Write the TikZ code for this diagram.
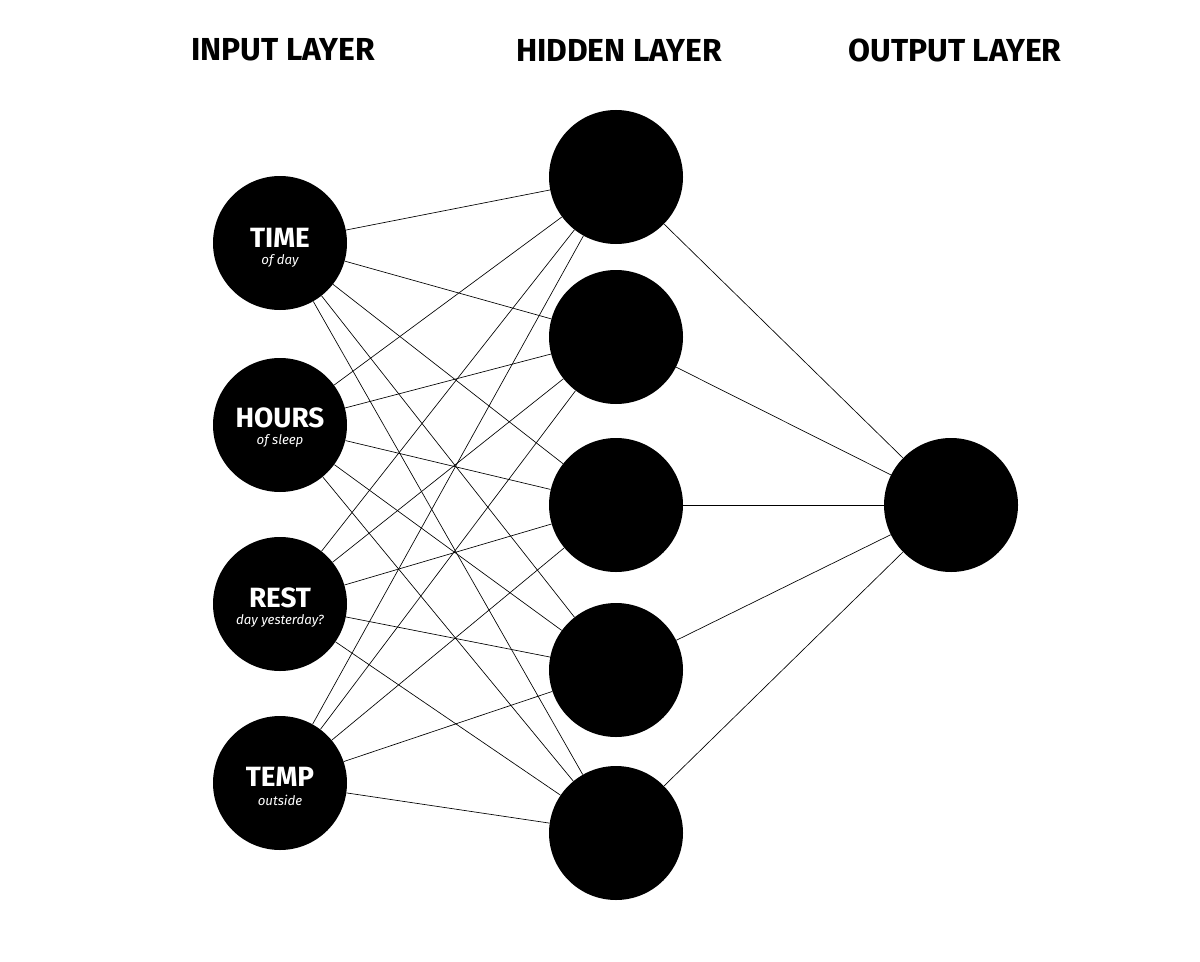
\documentclass[tikz,border=0pt]{standalone}
\usepackage{fontspec}
\setmainfont{Fira Sans}
\begin{document}
\begin{tikzpicture}[x=0.0265cm,y=-0.0265cm,
  neuron/.style={circle,fill=black,minimum size=134*0.0265cm,inner sep=0pt},
  title/.style={font=\fontsize{24}{28}\selectfont\bfseries},
  main/.style={text=white,inner sep=0pt,font=\fontsize{21}{24}\selectfont\bfseries},
  sub/.style={text=white,inner sep=0pt,font=\fontsize{10}{12}\selectfont\itshape},
  edge/.style={draw=black,line width=0.5pt}]
\useasboundingbox (0,0) rectangle (1200,961);
\node[title] at (283,50) {INPUT LAYER};
\node[title] at (619,50) {HIDDEN LAYER};
\node[title] at (955,50) {OUTPUT LAYER};
\node[neuron] (i1) at (280,243) {};
\node[neuron] (i2) at (280,425) {};
\node[neuron] (i3) at (280,604) {};
\node[neuron] (i4) at (280,783) {};
\node[main] (t1) at (280,238) {TIME};
\node[sub] (s1) at (280,261) {of day};
\node[main] (t2) at (280,418) {HOURS};
\node[sub] (s2) at (280,441) {of sleep};
\node[main] (t3) at (280,598) {REST};
\node[sub] (s3) at (280,621) {day yesterday?};
\node[main] (t4) at (280,777) {TEMP};
\node[sub] (s4) at (280,800) {outside};
\node[neuron] (h1) at (616,177) {};
\node[neuron] (h2) at (616,337) {};
\node[neuron] (h3) at (616,505) {};
\node[neuron] (h4) at (616,670) {};
\node[neuron] (h5) at (616,833) {};
\node[neuron] (o) at (951,505) {};
\foreach \i in {1,...,4}{\foreach \h in {1,...,5}{\draw[edge] (i\i) -- (h\h);}}
\foreach \h in {1,...,5}{\draw[edge] (h\h) -- (o);}
\end{tikzpicture}
\end{document}
